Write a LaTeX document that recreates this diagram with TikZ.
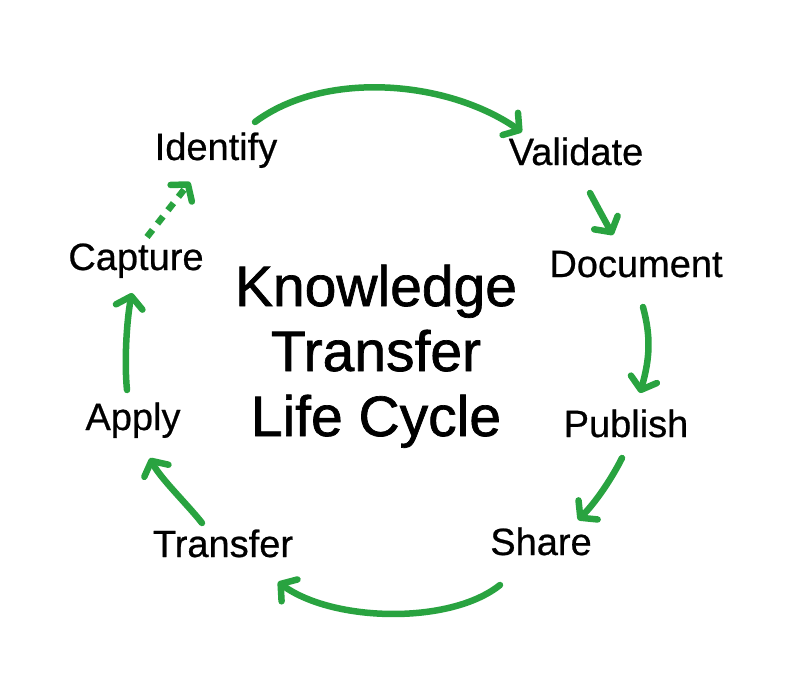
\documentclass[tikz,border=0pt]{standalone}
\usepackage{fontspec}
\setmainfont{Liberation Sans}
\newfontfamily\stagefont[FakeBold=0.6]{Liberation Sans}
\newfontfamily\titlefont[FakeBold=1.2]{Liberation Sans}
\usepackage{tikz}
\usetikzlibrary{arrows.meta}
\definecolor{cyclegreen}{RGB}{41,163,64}
\tikzset{%
  >={Straight Barb[length=11pt, width=27pt, line cap=round, line join=round]},
  % Specifications for style of nodes:
        stage/.style = {inner sep=0pt, anchor=base, text=black,
                        font=\stagefont\fontsize{38}{44}\selectfont},
        title/.style = {inner sep=0pt, anchor=base, align=center, text=black,
                        font=\titlefont\fontsize{57}{65}\selectfont},
  % Specifications for style of arrows:
         flow/.style = {->, draw=cyclegreen, line width=6.5pt, line cap=round},
     flowdash/.style = {flow, dash pattern=on 9pt off 8pt, line cap=butt},
}
\begin{document}
\begin{tikzpicture}[x=1pt, y=-1pt]
  \useasboundingbox (0,0) rectangle (800,690);

  % Specification of nodes (position, etc.)
  \node (identify)  [stage] at (216,160) {Identify};
  \node (validate)  [stage] at (576,165) {Validate};
  \node (document)  [stage] at (636,277) {Document};
  \node (publish)   [stage] at (626,437) {Publish};
  \node (share)     [stage] at (541,555) {Share};
  \node (transfer)  [stage] at (223,557) {Transfer};
  \node (apply)     [stage] at (133,430) {Apply};
  \node (capture)   [stage] at (136,270) {Capture};
  \node (cycle)     [title] at (376,436) {Knowledge\\Transfer\\Life Cycle};

  % Specification of arrows between nodes specified above
  \draw[flow] ([shift={(39,-38)}]identify.base) .. controls +(70,-52) and +(-75,-52) .. ([shift={(-54,-33)}]validate.base);
  \draw[flow] ([shift={(14,28)}]validate.base) .. controls +(8,15) and +(-8,-14) .. ([shift={(-23,-42)}]document.base);
  \draw[flow] ([shift={(7,30)}]document.base) .. controls +(8,30) and +(10,-35) .. ([shift={(14,-44)}]publish.base);
  \draw[flow] ([shift={(-4,21)}]publish.base) .. controls +(-10,20) and +(18,-18) .. ([shift={(37,-35)}]share.base);
  \draw[flow] ([shift={(-41,30)}]share.base) .. controls +(-50,40) and +(55,40) .. ([shift={(55,25)}]transfer.base);
  \draw[flow] ([shift={(-21,-34)}]transfer.base) .. controls +(-14,-18) and +(10,20) .. ([shift={(17,28)}]apply.base);
  \draw[flow] ([shift={(-6,-40)}]apply.base) .. controls +(-3,-30) and +(-5,25) .. ([shift={(-4,23)}]capture.base);
  \draw[flowdash] ([shift={(11,-33)}]capture.base) -- ([shift={(-26,22)}]identify.base);
\end{tikzpicture}
\end{document}
